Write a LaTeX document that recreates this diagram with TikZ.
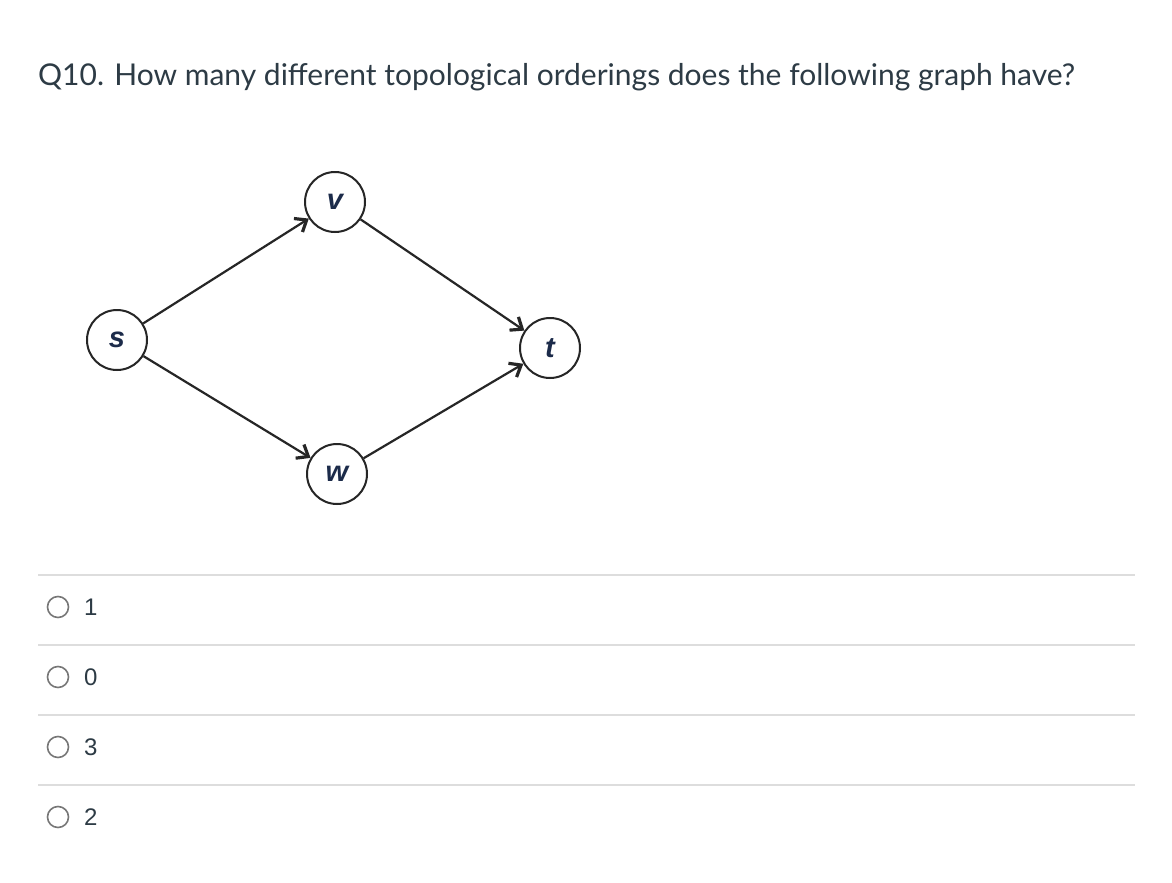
\documentclass[tikz,border=0pt]{standalone}
\usepackage{fontspec}
\setmainfont{Lato}
\newfontfamily\arialf{Liberation Sans}
\usetikzlibrary{arrows.meta}
\definecolor{txt}{HTML}{2D3B45}
\definecolor{lbl}{HTML}{1C2B4A}
\definecolor{sep}{HTML}{DDDDDD}
\definecolor{radio}{HTML}{777777}
\begin{document}
\begin{tikzpicture}[x=1pt,y=-1pt,
  vert/.style={circle,draw=black!85,line width=2pt,minimum size=60pt,inner sep=0pt,
    font=\arialf\bfseries\itshape\fontsize{29}{29}\selectfont,text=lbl},
  edge/.style={draw=black!85,line width=2.2pt,-{Straight Barb[length=10pt,width=16pt,line width=3.2pt]}},
  sepline/.style={draw=sep,line width=1.2pt},
  radiob/.style={circle,draw=radio,line width=1.6pt,minimum size=21pt,inner sep=0pt},
  opt/.style={anchor=base west,inner sep=0pt,text=txt,font=\arialf\fontsize{24}{24}\selectfont}]
\useasboundingbox[fill=white] (0,0) rectangle (1172,883);
\node[anchor=base west,inner sep=0pt,text=txt,font=\fontsize{30}{36}\selectfont] (title) at (38,85)
  {Q10. How many different topological orderings does the following graph have?};
\node[vert] (s) at (117,340) {s};
\node[vert] (v) at (335,202) {v};
\node[vert] (t) at (550,348) {t};
\node[vert] (w) at (337,474) {w};
\draw[edge] (s) -- (v);
\draw[edge] (v) -- (t);
\draw[edge] (s) -- (w);
\draw[edge] (w) -- (t);
\coordinate (l1a) at (38,575); \coordinate (l1b) at (1135,575);
\coordinate (l2a) at (38,645); \coordinate (l2b) at (1135,645);
\coordinate (l3a) at (38,715); \coordinate (l3b) at (1135,715);
\coordinate (l4a) at (38,785); \coordinate (l4b) at (1135,785);
\draw[sepline] (l1a) -- (l1b);
\draw[sepline] (l2a) -- (l2b);
\draw[sepline] (l3a) -- (l3b);
\draw[sepline] (l4a) -- (l4b);
\node[radiob] (r1) at (58,607) {};
\node[radiob] (r2) at (58,677) {};
\node[radiob] (r3) at (58,747) {};
\node[radiob] (r4) at (58,817) {};
\node[opt] (o1) at (84,615) {1};
\node[opt] (o2) at (84,685) {0};
\node[opt] (o3) at (84,755) {3};
\node[opt] (o4) at (84,825) {2};
\end{tikzpicture}
\end{document}
